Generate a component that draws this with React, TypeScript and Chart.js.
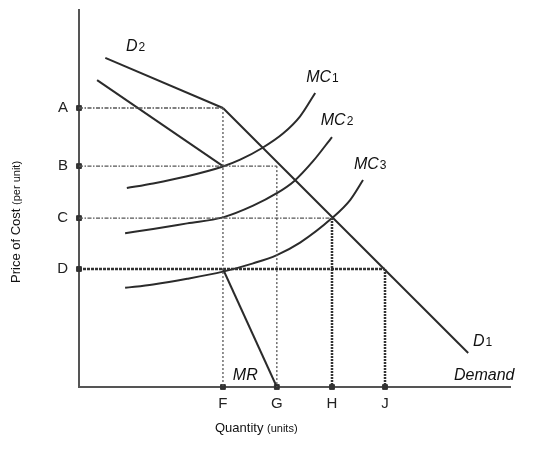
import React, { useEffect, useRef } from 'react';
import { Chart, registerables } from 'chart.js';

Chart.register(...registerables);

// Axis points
const PRICE_LABELS = ['A', 'B', 'C', 'D'];
const PRICE_VALUES = [74.0, 58.6, 44.8, 31.3];
const QTY_LABELS = ['F', 'G', 'H', 'J'];
const QTY_VALUES = [33.4, 45.9, 58.7, 71.0];

// Demand / revenue lines
const D2_X = [6.1, 33.4];
const D2_Y = [87.3, 74.0];
const D1_X = [33.4, 90.3];
const D1_Y = [74.0, 9.0];
const D1_UPPER_X = [4.2, 33.4];
const D1_UPPER_Y = [81.4, 58.6];
const MR_X = [33.4, 45.9];
const MR_Y = [31.3, 0];

// Marginal cost curves
const MC1_X = [11.1, 17.2, 25.1, 33.4, 37.4, 42.5, 47.4, 51.3, 54.8];
const MC1_Y = [52.8, 54.0, 55.9, 58.5, 60.3, 63.4, 67.3, 71.8, 78.0];
const MC2_X = [10.7, 17.2, 25.1, 33.4, 40.4, 45.9, 49.9, 54.3, 58.7];
const MC2_Y = [40.8, 41.9, 43.4, 45.0, 48.1, 51.4, 54.6, 59.9, 66.3];
const MC3_X = [10.7, 17.2, 25.1, 33.4, 40.4, 45.9, 51.3, 58.7, 62.9, 65.9];
const MC3_Y = [26.3, 27.2, 28.7, 30.6, 32.8, 35.0, 38.3, 44.8, 49.6, 54.9];

// Curve labels: main text, subscript, anchor (data units)
const LABEL_TEXT = ['D', 'MC', 'MC', 'MC', 'D', 'MR', 'Demand'];
const LABEL_SUB = ['2', '1', '2', '3', '1', '', ''];
const LABEL_X = [10.9, 52.7, 56.1, 63.8, 91.4, 35.7, 87.0];
const LABEL_Y = [89.1, 80.9, 69.5, 57.8, 10.9, 1.9, 1.9];

const FONT = '"Liberation Sans", Arial, Helvetica, sans-serif';
const LINE_COLOR = '#2b2b2b';

const pts = (xs: number[], ys: number[]) => xs.map((x, i) => ({ x, y: ys[i] }));

const labelPlugin = {
  id: 'econLabels',
  afterDraw(chart: any) {
    const { ctx, chartArea, scales } = chart;
    const xs = scales.x;
    const ys = scales.y;
    ctx.save();
    ctx.fillStyle = '#111';
    ctx.textBaseline = 'alphabetic';
    ctx.textAlign = 'left';
    LABEL_TEXT.forEach((t, i) => {
      const px = xs.getPixelForValue(LABEL_X[i]);
      const py = ys.getPixelForValue(LABEL_Y[i]);
      ctx.font = `italic 16px ${FONT}`;
      ctx.fillText(t, px, py);
      const w = ctx.measureText(t).width;
      if (LABEL_SUB[i]) {
        ctx.font = `12px ${FONT}`;
        ctx.fillText(LABEL_SUB[i], px + w + 1, py);
      }
    });
    // x axis title
    let tx = chartArea.left + 136;
    const ty = chartArea.bottom + 45;
    ctx.font = `13px ${FONT}`;
    ctx.fillText('Quantity ', tx, ty);
    tx += ctx.measureText('Quantity ').width;
    ctx.font = `11px ${FONT}`;
    ctx.fillText('(units)', tx, ty);
    // y axis title
    ctx.translate(chartArea.left - 59, chartArea.bottom - 104);
    ctx.rotate(-Math.PI / 2);
    ctx.font = `13px ${FONT}`;
    ctx.fillText('Price of Cost ', 0, 0);
    const w2 = ctx.measureText('Price of Cost ').width;
    ctx.font = `11px ${FONT}`;
    ctx.fillText('(per unit)', w2, 0);
    ctx.restore();
  },
};

export default function App() {
  const ref = useRef<HTMLCanvasElement | null>(null);

  useEffect(() => {
    if (!ref.current) return;

    const guides: any[] = [];
    PRICE_VALUES.forEach((p, i) => {
      const q = QTY_VALUES[i];
      const heavy = i === 3;
      guides.push({
        data: [{ x: 0, y: p }, { x: q, y: p }],
        borderColor: heavy ? '#333' : '#555',
        borderWidth: heavy ? 2.5 : 1.3,
        borderDash: heavy ? [3, 1] : [4, 1.5, 1.5, 1.5],
      });
      const heavyV = i >= 2;
      guides.push({
        data: [{ x: q, y: p }, { x: q, y: 0 }],
        borderColor: heavyV ? '#333' : '#555',
        borderWidth: heavyV ? 2.5 : 1.3,
        borderDash: heavyV ? [2, 1] : [2, 2],
      });
    });

    const curve = (xs: number[], ys: number[], smooth = false) => ({
      data: pts(xs, ys),
      borderColor: LINE_COLOR,
      borderWidth: 2,
      cubicInterpolationMode: smooth ? 'monotone' : 'default',
      tension: 0,
    });

    const markers = {
      data: [
        ...PRICE_VALUES.map((p) => ({ x: 0, y: p })),
        ...QTY_VALUES.map((q) => ({ x: q, y: 0 })),
      ],
      showLine: false,
      pointRadius: 3.4,
      pointStyle: 'rect',
      pointBackgroundColor: '#333',
      pointBorderColor: '#333',
      clip: false,
    };

    const datasets: any[] = [
      ...guides.map((g) => ({ ...g, showLine: true, pointRadius: 0, clip: false })),
      curve(D2_X, D2_Y),
      curve(D1_X, D1_Y),
      curve(D1_UPPER_X, D1_UPPER_Y),
      curve(MR_X, MR_Y),
      curve(MC1_X, MC1_Y, true),
      curve(MC2_X, MC2_Y, true),
      curve(MC3_X, MC3_Y, true),
    ].map((d) => ({ showLine: true, pointRadius: 0, ...d }));
    datasets.push(markers);

    const chart = new Chart(ref.current, {
      type: 'scatter',
      data: { datasets },
      options: {
        animation: false,
        responsive: true,
        maintainAspectRatio: false,
        layout: { padding: { left: 49, right: 33, top: 10, bottom: 26 } },
        plugins: { legend: { display: false }, tooltip: { enabled: false } },
        scales: {
          x: {
            type: 'linear',
            min: 0,
            max: 100,
            grid: { display: false, drawTicks: false },
            border: { display: true, color: '#555', width: 2 },
            ticks: {
              padding: 8,
              autoSkip: false,
              maxRotation: 0,
              color: '#222',
              font: { family: FONT, size: 15 },
              callback: (v: any) => {
                const i = QTY_VALUES.indexOf(Number(v));
                return i >= 0 ? QTY_LABELS[i] : '';
              },
            },
            afterBuildTicks: (s: any) => {
              s.ticks = QTY_VALUES.map((v) => ({ value: v }));
            },
            afterFit: (s: any) => {
              s.height = 40;
              s.paddingLeft = 0;
              s.paddingRight = 0;
            },
          },
          y: {
            type: 'linear',
            min: 0,
            max: 100,
            grid: { display: false, drawTicks: false },
            border: { display: true, color: '#555', width: 2 },
            ticks: {
              padding: 11,
              autoSkip: false,
              color: '#222',
              font: { family: FONT, size: 15 },
              callback: (v: any) => {
                const i = PRICE_VALUES.indexOf(Number(v));
                return i >= 0 ? PRICE_LABELS[i] : '';
              },
            },
            afterBuildTicks: (s: any) => {
              s.ticks = PRICE_VALUES.map((v) => ({ value: v }));
            },
            afterFit: (s: any) => {
              s.width = 30;
              s.paddingTop = 0;
              s.paddingBottom = 0;
            },
          },
        },
      } as any,
      plugins: [labelPlugin],
    });
    return () => chart.destroy();
  }, []);

  return (
    <div style={{ position: 'fixed', left: 0, top: 0, width: 543, height: 453, background: '#fff' }}>
      <canvas ref={ref} />
    </div>
  );
}
